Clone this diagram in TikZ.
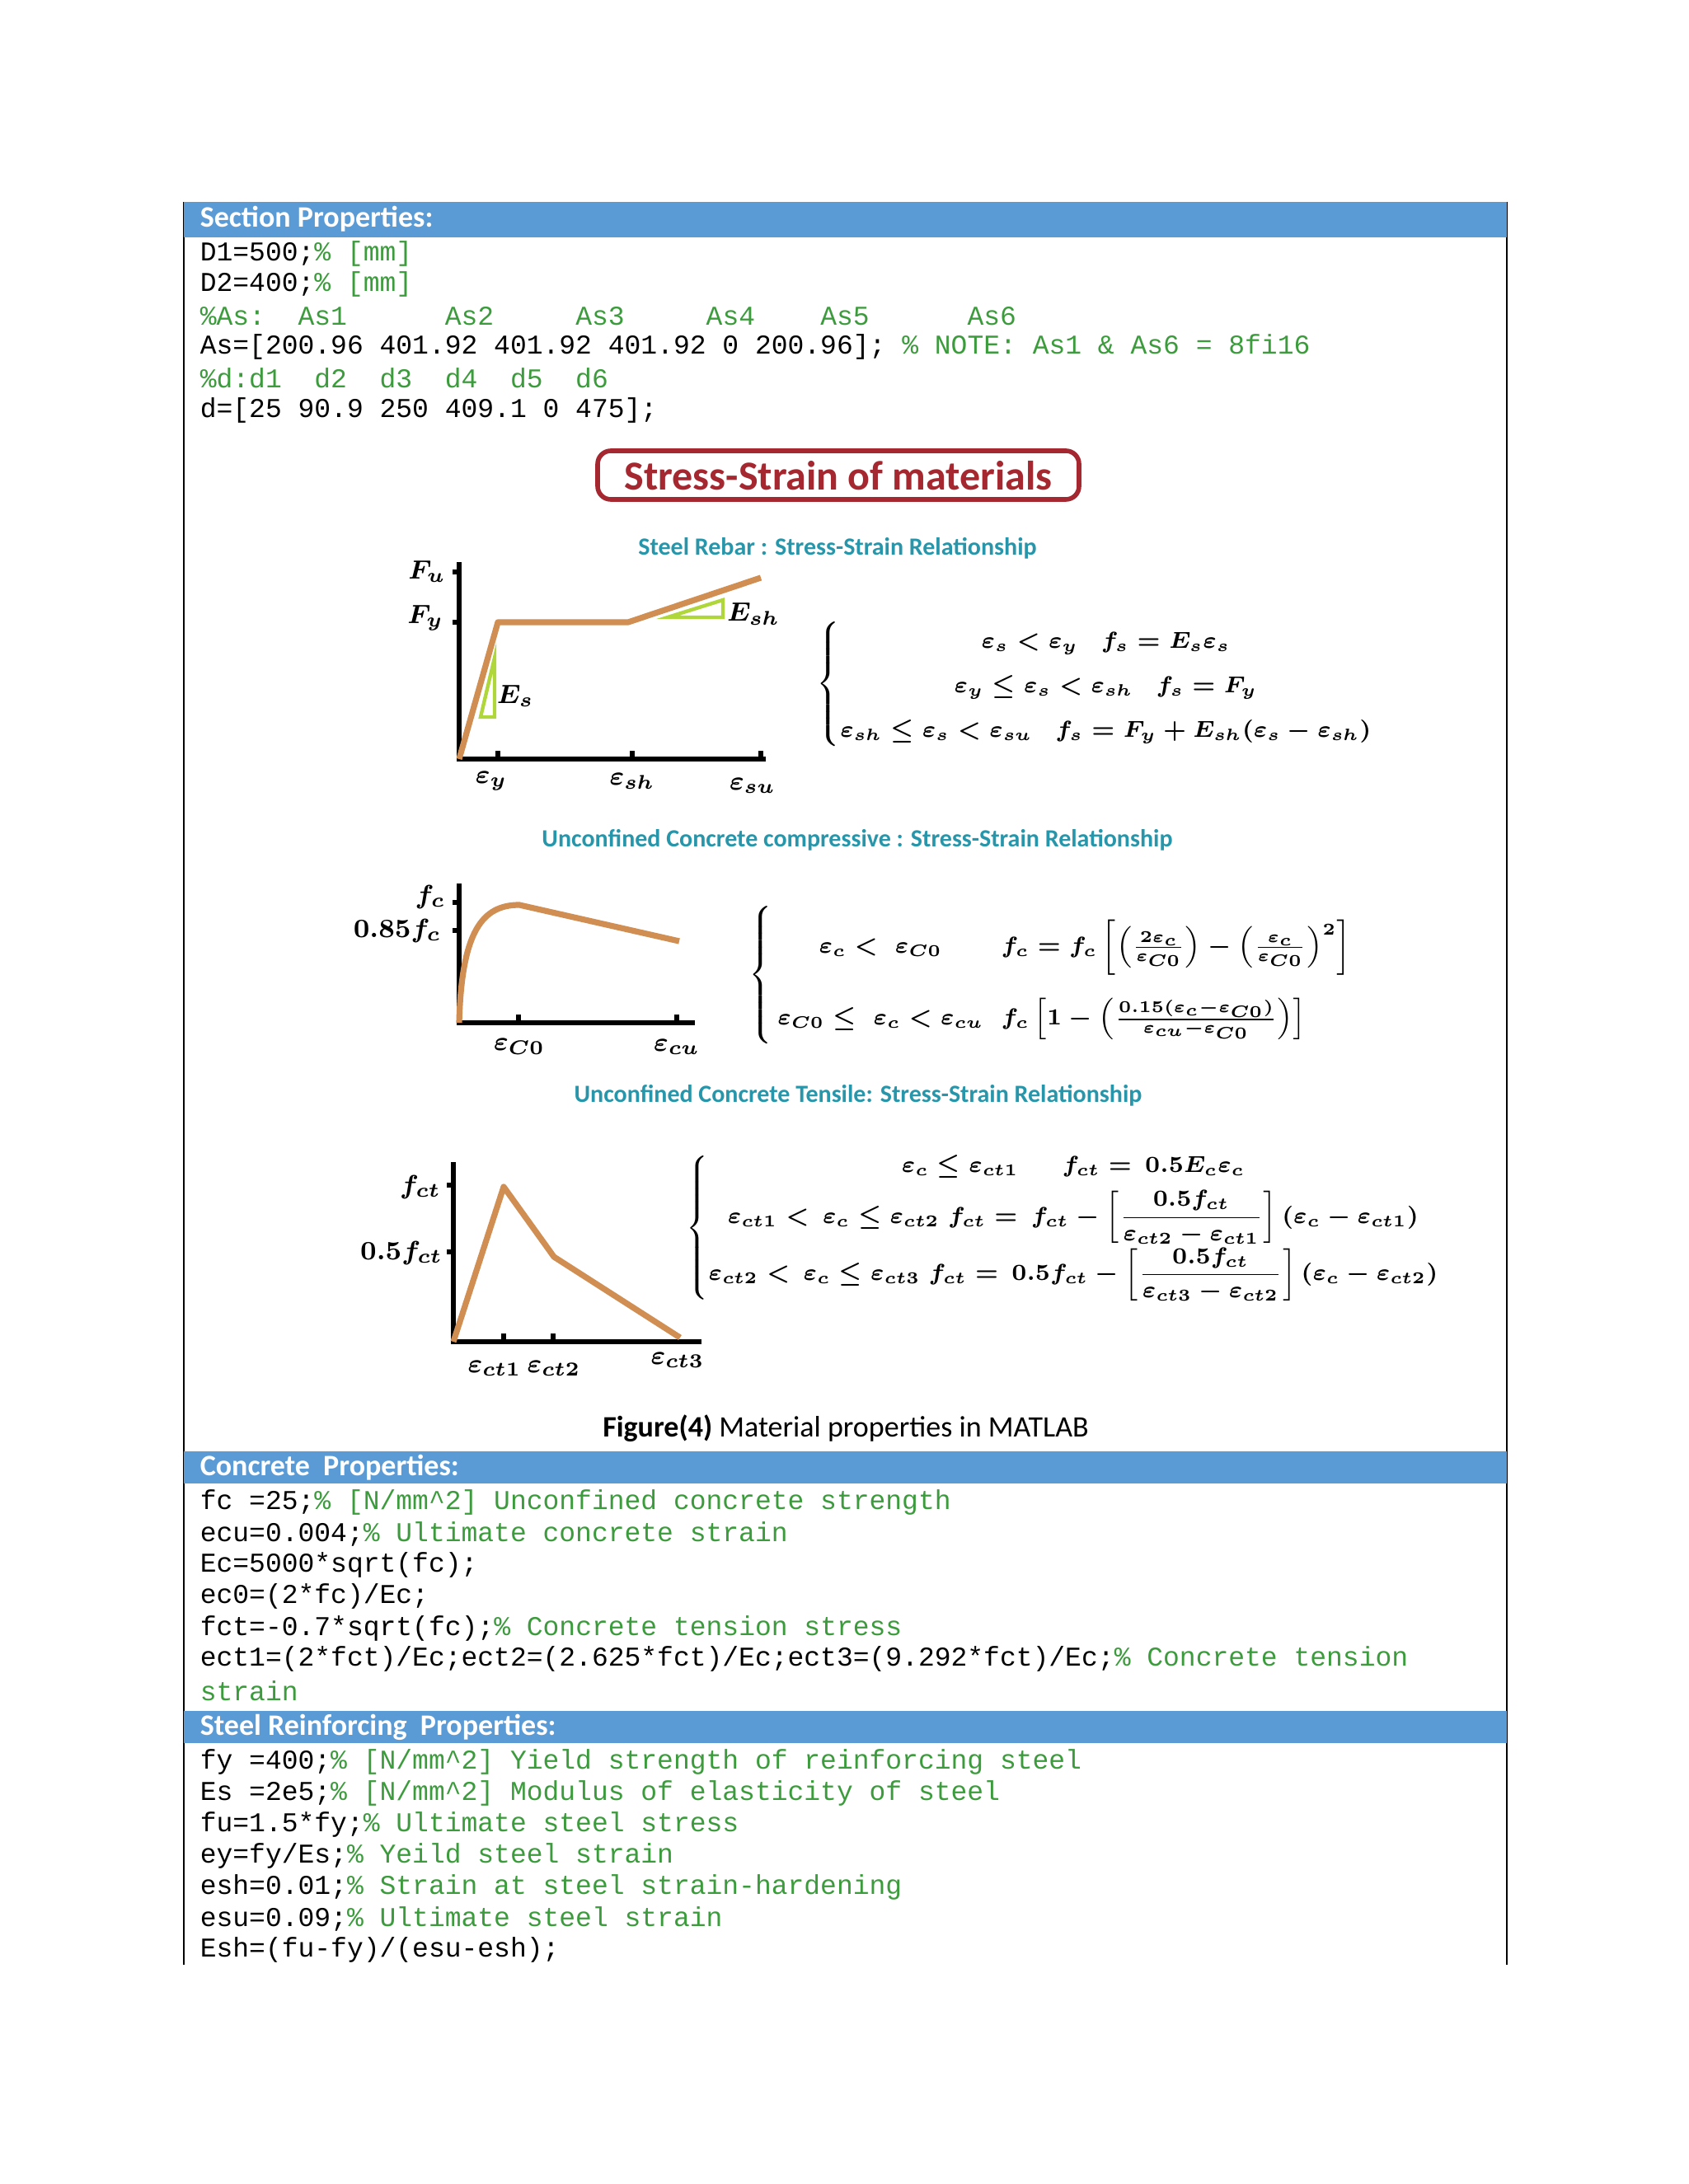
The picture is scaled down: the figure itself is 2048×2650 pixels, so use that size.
\documentclass[tikz,border=0pt]{standalone}
\usepackage{amsmath,bm}
\usepackage{fontspec}
\setmonofont{Liberation Mono}
\newfontfamily\carl{Carlito}
\definecolor{barblue}{RGB}{91,155,213}
\definecolor{cgreen}{RGB}{60,155,60}
\definecolor{teal}{RGB}{40,150,170}
\definecolor{curve}{RGB}{208,142,82}
\definecolor{tri}{RGB}{175,215,60}
\definecolor{titlered}{RGB}{165,40,48}
\newcommand\cm[1]{\textcolor{cgreen}{#1}}
\begin{document}
\begin{tikzpicture}[x=0.25pt,y=-0.25pt,
  code/.style={anchor=west,inner sep=0pt,font=\fontsize{8.25}{9}\ttfamily},
  bartext/.style={anchor=west,inner sep=0pt,text=white,font=\fontsize{9}{10}\carl\bfseries},
  hdr/.style={inner sep=0pt,text=teal,font=\fontsize{7.5}{9}\carl\bfseries},
  ax/.style={line width=1.3pt},
  crv/.style={curve,line width=1.8pt,line join=round},
  trn/.style={tri,line width=1.1pt},
  lab/.style={inner sep=0pt,font=\fontsize{8.5}{10}\selectfont\boldmath},
  eq/.style={inner sep=0pt,font=\fontsize{7}{9}\selectfont\boldmath}]
\useasboundingbox (0,0) rectangle (2048,2650);
% frame
\draw[line width=0.6pt] (223,245) -- (223,2384) (1828,245) -- (1828,2384);
\fill[barblue] (223,245) rectangle (1828,288);
\node[bartext] (h1) at (242,266) {Section Properties:};
\node[code] (l1) at (242,308) {D1=500;\cm{\%~[mm]}};
\node[code] (l2) at (242,345) {D2=400;\cm{\%~[mm]}};
\node[code] (l3) at (242,384) {\cm{\%As:~~As1~~~~~~As2~~~~~As3~~~~~As4~~~~As5~~~~~~As6}};
\node[code] (l4) at (242,421) {As=[200.96 401.92 401.92 401.92 0 200.96]; \cm{\% NOTE: As1 \& As6 = 8fi16}};
\node[code] (l5) at (242,459) {\cm{\%d:d1~~d2~~d3~~d4~~d5~~d6}};
\node[code] (l6) at (242,498) {d=[25 90.9 250 409.1 0 475];};
% title
\draw[titlered,line width=1.4pt,rounded corners=4pt] (725,547) rectangle (1309,606);
\node[inner sep=0pt,text=titlered,font=\fontsize{12.5}{14}\carl\bfseries] (ttl) at (1017,577) {Stress-Strain of materials};
% steel
\node[hdr] (hs) at (1016,665) {Steel Rebar : Stress-Strain Relationship};
\draw[ax] (557,682) -- (557,921) -- (929,921);
\draw[ax] (549,694) -- (557,694) (549,755) -- (557,755);
\draw[ax] (604,921) -- (604,911) (767,921) -- (767,911) (923,921) -- (923,911);
\draw[crv] (557,921) -- (604,755) -- (762,755) -- (923,701);
\draw[trn] (583,870) -- (600,870) -- (600,798) -- cycle;
\draw[trn] (810,749) -- (877,749) -- (877,728) -- cycle;
\node[lab] (fu) at (518,694) {$F_u$};
\node[lab] (fy) at (516,750) {$F_y$};
\node[lab] (es) at (625,845) {$E_s$};
\node[lab] (esh) at (914,745) {$E_{sh}$};
\node[lab] (ey) at (596,948) {$\varepsilon_y$};
\node[lab] (eshx) at (767,948) {$\varepsilon_{sh}$};
\node[lab] (esu) at (913,953) {$\varepsilon_{su}$};
\node[eq,anchor=west] (eqs) at (990,830) {$\left\{\renewcommand\arraystretch{1.5}\begin{array}{@{}c@{}}
 \varepsilon_s<\varepsilon_y\quad f_s=E_s\varepsilon_s\\
 \varepsilon_y\le\varepsilon_s<\varepsilon_{sh}\quad f_s=F_y\\
 \varepsilon_{sh}\le\varepsilon_s<\varepsilon_{su}\quad f_s=F_y+E_{sh}(\varepsilon_s-\varepsilon_{sh})
 \end{array}\right.$};
% concrete compressive
\node[hdr] (hc) at (1040,1019) {Unconfined Concrete compressive : Stress-Strain Relationship};
\draw[ax] (557,1072) -- (557,1241) -- (843,1241);
\draw[ax] (549,1095) -- (557,1095) (549,1129) -- (557,1129);
\draw[ax] (629,1241) -- (629,1231) (821,1241) -- (821,1231);
\draw[crv] (557,1241) .. controls (560,1130) and (585,1098) .. (630,1098) -- (824,1142);
\node[lab] (fc) at (522,1088) {$f_c$};
\node[lab] (f85) at (482,1129) {$0.85f_c$};
\node[lab] (ec0) at (630,1270) {$\varepsilon_{C0}$};
\node[lab] (ecu) at (821,1270) {$\varepsilon_{cu}$};
\node[eq,anchor=west] (eqc) at (908,1183) {$\left\{\renewcommand\arraystretch{2.4}\begin{array}{@{\,}c@{\ \ }l@{}}
 \varepsilon_c<\ \varepsilon_{C0} & f_c=f_c\left[\left(\frac{2\varepsilon_c}{\varepsilon_{C0}}\right)-\left(\frac{\varepsilon_c}{\varepsilon_{C0}}\right)^{2}\right]\\
 \varepsilon_{C0}\le\ \varepsilon_c<\varepsilon_{cu} & f_c\left[1-\left(\frac{0.15(\varepsilon_c-\varepsilon_{C0})}{\varepsilon_{cu}-\varepsilon_{C0}}\right)\right]
 \end{array}\right.$};
% concrete tensile
\node[hdr] (ht) at (1041,1329) {Unconfined Concrete Tensile: Stress-Strain Relationship};
\draw[ax] (550,1410) -- (550,1628) -- (851,1628);
\draw[ax] (542,1438) -- (550,1438) (542,1519) -- (550,1519);
\draw[ax] (611,1628) -- (611,1618) (671,1628) -- (671,1618);
\draw[crv] (550,1628) -- (611,1440) -- (672,1525) -- (825,1623);
\node[lab] (fct) at (510,1440) {$f_{ct}$};
\node[lab] (f5) at (487,1520) {$0.5f_{ct}$};
\node[lab] (ect1) at (600,1660) {$\varepsilon_{ct1}$};
\node[lab] (ect2) at (672,1660) {$\varepsilon_{ct2}$};
\node[lab] (ect3) at (822,1650) {$\varepsilon_{ct3}$};
\node[eq,anchor=west,font=\fontsize{6.6}{8}\selectfont\boldmath] (eqt) at (832,1490) {$\left\{\renewcommand\arraystretch{1.0}\begin{array}{@{}c@{}}
 \varepsilon_c\le\varepsilon_{ct1}\qquad f_{ct}=\,0.5E_c\varepsilon_c\\[3pt]
 \varepsilon_{ct1}<\,\varepsilon_c\le\varepsilon_{ct2}\ f_{ct}=\,f_{ct}-\left[\dfrac{0.5f_{ct}}{\varepsilon_{ct2}-\varepsilon_{ct1}}\right](\varepsilon_c-\varepsilon_{ct1})\\[5pt]
 \varepsilon_{ct2}<\,\varepsilon_c\le\varepsilon_{ct3}\ f_{ct}=\,0.5f_{ct}-\left[\dfrac{0.5f_{ct}}{\varepsilon_{ct3}-\varepsilon_{ct2}}\right](\varepsilon_c-\varepsilon_{ct2})
 \end{array}\right.$};
\node[inner sep=0pt,font=\fontsize{9}{10}\carl] (cap) at (1026,1733) {\textbf{Figure(4)} Material properties in MATLAB};
% concrete props
\fill[barblue] (223,1761) rectangle (1828,1800);
\node[bartext] (h2) at (242,1781) {Concrete~ Properties:};
\node[code] (c1) at (242,1823) {fc =25;\cm{\%~[N/mm\textasciicircum 2] Unconfined concrete strength}};
\node[code] (c2) at (242,1861) {ecu=0.004;\cm{\%~Ultimate concrete strain}};
\node[code] (c3) at (242,1899) {Ec=5000*sqrt(fc);};
\node[code] (c4) at (242,1937) {ec0=(2*fc)/Ec;};
\node[code] (c5) at (242,1976) {fct=-0.7*sqrt(fc);\cm{\%~Concrete tension stress}};
\node[code] (c6) at (242,2013) {ect1=(2*fct)/Ec;ect2=(2.625*fct)/Ec;ect3=(9.292*fct)/Ec;\cm{\%~Concrete tension}};
\node[code] (c7) at (242,2052) {\cm{strain}};
% steel props
\fill[barblue] (223,2076) rectangle (1828,2115);
\node[bartext] (h3) at (242,2096) {Steel Reinforcing~ Properties:};
\node[code] (s1) at (242,2138) {fy =400;\cm{\%~[N/mm\textasciicircum 2] Yield strength of reinforcing steel}};
\node[code] (s2) at (242,2176) {Es =2e5;\cm{\%~[N/mm\textasciicircum 2] Modulus of elasticity of steel}};
\node[code] (s3) at (242,2214) {fu=1.5*fy;\cm{\%~Ultimate steel stress}};
\node[code] (s4) at (242,2252) {ey=fy/Es;\cm{\%~Yeild steel strain}};
\node[code] (s5) at (242,2290) {esh=0.01;\cm{\%~Strain at steel strain-hardening}};
\node[code] (s6) at (242,2328) {esu=0.09;\cm{\%~Ultimate steel strain}};
\node[code] (s7) at (242,2366) {Esh=(fu-fy)/(esu-esh);};
\end{tikzpicture}
\end{document}
